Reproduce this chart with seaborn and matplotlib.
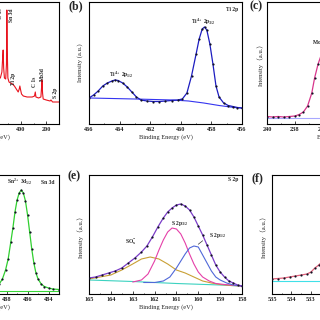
import matplotlib
matplotlib.use("Agg")
import matplotlib.pyplot as plt
from matplotlib.ticker import MultipleLocator
import seaborn as sns

# values, intensity in arbitrary units
# (a) survey spectrum
survey_be = [1300, 1100, 900, 700, 600, 560, 548, 542, 538, 534, 528, 518, 512, 509, 506, 501,
             492, 480, 465, 450, 435, 420, 412, 407, 401, 394, 380, 350, 310, 292, 286, 281,
             260, 242, 237, 233, 229, 224, 200, 170, 163, 150, 100]
survey_int = [52, 50, 49, 47, 46, 46, 52, 66, 74, 56, 46, 45, 60, 114, 75, 46,
              42, 41, 40, 38, 35, 32, 35, 38, 34, 30, 28, 27, 27, 28, 32, 27,
              26, 27, 36, 44, 31, 25, 24, 23, 24, 22, 22]
survey_labels = ["O 1s", "Sn 3d", "Ti 2p", "C 1s", "Mo3d", "S 2p"]
survey_label_be = [555, 469, 453, 296, 233, 131]
survey_label_int = [110, 109, 45, 42, 50, 31]

# (b) Ti 2p
ti_be = [466.0, 465.7, 465.4, 465.1, 464.8, 464.5, 464.3, 464.1, 463.8, 463.5, 463.2, 462.9,
         462.6, 462.2, 461.8, 461.4, 461.0, 460.6, 460.2, 459.9, 459.6, 459.3, 459.0, 458.8,
         458.6, 458.45, 458.3, 458.1, 457.9, 457.7, 457.5, 457.2, 456.9, 456.6, 456.3, 456.0]
ti_int = [26, 29, 33, 38, 41, 43, 44, 43.5, 41, 37, 32, 27,
          24, 23, 22.5, 22.5, 23, 23.5, 24, 25, 31, 48, 70, 85,
          95, 97, 94, 80, 60, 38, 27, 21, 18.5, 17.5, 16.5, 16]
ti_bg_be = [466, 463, 460.5, 459.5, 458.5, 457.5, 456.5, 456]
ti_bg = [26, 25, 24, 23, 21, 18.5, 16.5, 16]

# (c) Mo 3d
mo_be = [240.0, 239.6, 239.2, 238.8, 238.4, 238.0, 237.7, 237.4, 237.1, 236.8, 236.6, 236.35, 236.1, 235.8]
mo_int = [7.5, 7.0, 7.5, 7.0, 7.5, 8.0, 9.5, 12, 18, 31, 46, 60, 70, 80]
mo_bg_be = [240, 236, 232]
mo_bg = [6.5, 6.5, 6.5]

# (d) Sn 3d
sn_be = [490.0, 489.5, 489.0, 488.7, 488.4, 488.1, 487.85, 487.6, 487.4, 487.2, 487.0, 486.8, 486.6,
         486.4, 486.2, 486.0, 485.8, 485.6, 485.4, 485.2, 485.0, 484.7, 484.4, 484.0, 483.6, 483.0]
sn_int = [3, 4, 5.5, 8, 13, 22, 33, 50, 64, 80, 92, 99, 102,
          99, 91, 77, 60, 43, 29, 19, 13, 8, 5.5, 4, 3, 2.5]
sn_bg_be = [497, 483]
sn_bg = [1, 1]

# (e) S 2p
s_be = [165.0, 164.7, 164.4, 164.1, 163.8, 163.5, 163.2, 162.9, 162.6, 162.35, 162.1, 161.85, 161.6,
        161.4, 161.2, 161.0, 160.8, 160.6, 160.4, 160.2, 160.0, 159.8, 159.6, 159.4, 159.2, 159.0,
        158.8, 158.6, 158.4, 158.2, 158.0]
s_int = [14, 15, 17, 19, 21, 24, 29, 34, 40, 46, 55, 65, 74,
         80, 84, 87, 88, 86, 82, 75, 66, 57, 47, 37, 27, 20,
         15, 11, 9, 7, 6]
s_bg_be = [165, 163, 161, 159, 158]
s_bg = [12, 10.5, 8.5, 7, 6]
sox_be = [165, 164.5, 164, 163.5, 163, 162.6, 162.2, 161.8, 161.4, 161.0, 160.6, 160.2, 159.8, 159.4, 159.0, 158.5, 158.0]
sox_int = [13, 15, 17, 22, 28, 33, 35, 33, 28, 22, 19, 15, 11, 9, 7.5, 6.5, 6]
s32_be = [163.0, 162.6, 162.3, 162.0, 161.8, 161.6, 161.4, 161.2, 161.0, 160.8, 160.6, 160.4, 160.2,
          160.0, 159.8, 159.5, 159.2, 158.8, 158.0]
s32_int = [10, 12, 18, 31, 42, 52, 60, 64, 63, 58, 49, 38, 28, 20, 15, 11, 8.5, 7.5, 6]
s12_be = [162.5, 162.0, 161.6, 161.3, 161.0, 160.8, 160.6, 160.4, 160.2, 160.0, 159.8, 159.6, 159.4,
          159.2, 159.0, 158.7, 158.4, 158.0]
s12_int = [9.5, 9.5, 11, 15, 24, 31, 38, 44, 46, 45, 37, 29, 21, 15, 12, 9, 7, 6]

# (f) O 1s
o_be = [535.0, 534.7, 534.4, 534.1, 533.8, 533.5, 533.2, 533.0, 532.8, 532.6, 532.4, 532.2]
o_int = [13, 13.5, 14, 15, 16, 17, 18, 20, 24, 27, 31, 36]
o_bg_be = [535, 528]
o_bg = [11.5, 11.5]

sns.set_style("ticks")
plt.rcParams["font.family"] = ["Liberation Serif", "Noto Sans CJK SC"]
plt.rcParams["font.weight"] = "bold"
plt.rcParams["mathtext.fontset"] = "custom"
plt.rcParams["mathtext.rm"] = "Liberation Serif:bold"
plt.rcParams["mathtext.it"] = "Liberation Serif:bold:italic"
plt.rcParams["mathtext.bf"] = "Liberation Serif:bold"
plt.rcParams["mathtext.default"] = "rm"

W = H = 320
fig = plt.figure(figsize=(3.2, 3.2), dpi=100)


def add_panel(left, top, right, bottom):
    return fig.add_axes([left / W, 1 - bottom / H, (right - left) / W, (bottom - top) / H])


def style(ax, xlim, ylim, major, minor, ylabel=None, ypad=4):
    ax.set_xlim(*xlim)
    ax.set_ylim(*ylim)
    ax.xaxis.set_major_locator(MultipleLocator(major))
    ax.xaxis.set_minor_locator(MultipleLocator(minor))
    ax.set_yticks([])
    ax.tick_params(axis="x", which="both", direction="in", labelsize=4.5, pad=2.5, width=0.6)
    ax.tick_params(axis="x", which="major", length=2)
    ax.tick_params(axis="x", which="minor", length=1)
    ax.set_xlabel("Binding Energy (eV)", fontsize=4.6, labelpad=1.5)
    if ylabel:
        ax.set_ylabel(ylabel, fontsize=4.8, labelpad=ypad)
    for s in ax.spines.values():
        s.set_linewidth(0.8)
        s.set_color("black")


def fit_with_points(ax, x, y, color):
    sns.lineplot(x=x, y=y, ax=ax, color=color, lw=0.9)
    sns.scatterplot(x=x, y=y, ax=ax, color="#111122", s=2.5, linewidth=0, zorder=3)


ann = dict(fontsize=4, fontweight="bold", ha="center", va="center")

# (a)
ax = add_panel(-94, 2, 59, 124)
sns.lineplot(x=survey_be, y=survey_int, ax=ax, color="#e8141e", lw=0.8)
for lab, bx, iy in zip(survey_labels, survey_label_be, survey_label_int):
    ax.text(bx, iy, lab, rotation=90, **ann)
style(ax, (1300, 100), (0, 122), 200, 100)

# (b)
ax = add_panel(89, 2, 242, 124)
sns.lineplot(x=ti_bg_be, y=ti_bg, ax=ax, color="#3535f0", lw=0.8)
fit_with_points(ax, ti_be, ti_int, "#1c1cc0")
ax.text(456.65, 114, "Ti 2p", **ann)
ax.text(458.55, 102, "Ti$^{4+}$ 2p$_{3/2}$", **ann)
ax.text(463.9, 49, "Ti$^{4+}$ 2p$_{1/2}$", **ann)
style(ax, (466, 456), (0, 122), 2, 1, "Intensity (a.u.)", 4)

# (c)
ax = add_panel(267, 2, 420, 124)
sns.lineplot(x=mo_bg_be, y=mo_bg, ax=ax, color="#a8a8ff", lw=0.8)
fit_with_points(ax, mo_be, mo_int, "#d8358c")
ax.text(236.8, 81, "Mo$^{6+}$ 3d$_{5/2}$", fontsize=4, fontweight="bold", ha="left", va="center")
style(ax, (240, 229.07), (0, 122), 2, 1, "Intensity（a.u.）", 2.5)

# (d)
ax = add_panel(-94, 175, 59, 294)
sns.lineplot(x=sn_bg_be, y=sn_bg, ax=ax, color="#38d838", lw=0.8)
fit_with_points(ax, sn_be, sn_int, "#30d030")
ax.text(486.7, 110, "Sn$^{2+}$ 3d$_{5/2}$", **ann)
ax.text(484.1, 110, "Sn 3d", **ann)
style(ax, (497.6, 483), (-2, 117), 2, 1)

# (e)
ax = add_panel(89, 175, 242, 294)
sns.lineplot(x=s_bg_be, y=s_bg, ax=ax, color="#3cd2c0", lw=0.8)
sns.lineplot(x=sox_be, y=sox_int, ax=ax, color="#c9a035", lw=0.8)
sns.lineplot(x=s32_be, y=s32_int, ax=ax, color="#e540a8", lw=0.8)
sns.lineplot(x=s12_be, y=s12_int, ax=ax, color="#5068d8", lw=0.8)
fit_with_points(ax, s_be, s_int, "#7a3cc8")
ax.text(158.4, 113, "S 2p", **ann)
ax.text(160.84, 69, "S 2p$_{3/2}$", **ann)
ax.text(159.14, 56, "S 2p$_{1/2}$", **ann)
ax.text(163.08, 50, "SO$^{-}_{x}$", **ann)
ax.annotate("", xy=(160.1, 46), xytext=(159.7, 53),
            arrowprops=dict(arrowstyle="-", color="#333333", lw=0.5))
style(ax, (165, 158), (-2, 117), 1, 0.5, "Intensity（a.u.）", 4)

# (f)
ax = add_panel(272, 175, 425, 294)
sns.lineplot(x=o_bg_be, y=o_bg, ax=ax, color="#40e0e8", lw=0.8)
fit_with_points(ax, o_be, o_int, "#e0607a")
style(ax, (535, 527.15), (-2, 117), 1, 0.5, "Intensity（a.u.）", 4)

for lab, px, py in [("(b)", 76, 6), ("(c)", 256, 6), ("(e)", 74, 176), ("(f)", 257, 178)]:
    fig.text(px / W, 1 - py / H, lab, fontsize=8.5, fontweight="bold", ha="center", va="center")

fig.savefig("out.png", dpi=100)
